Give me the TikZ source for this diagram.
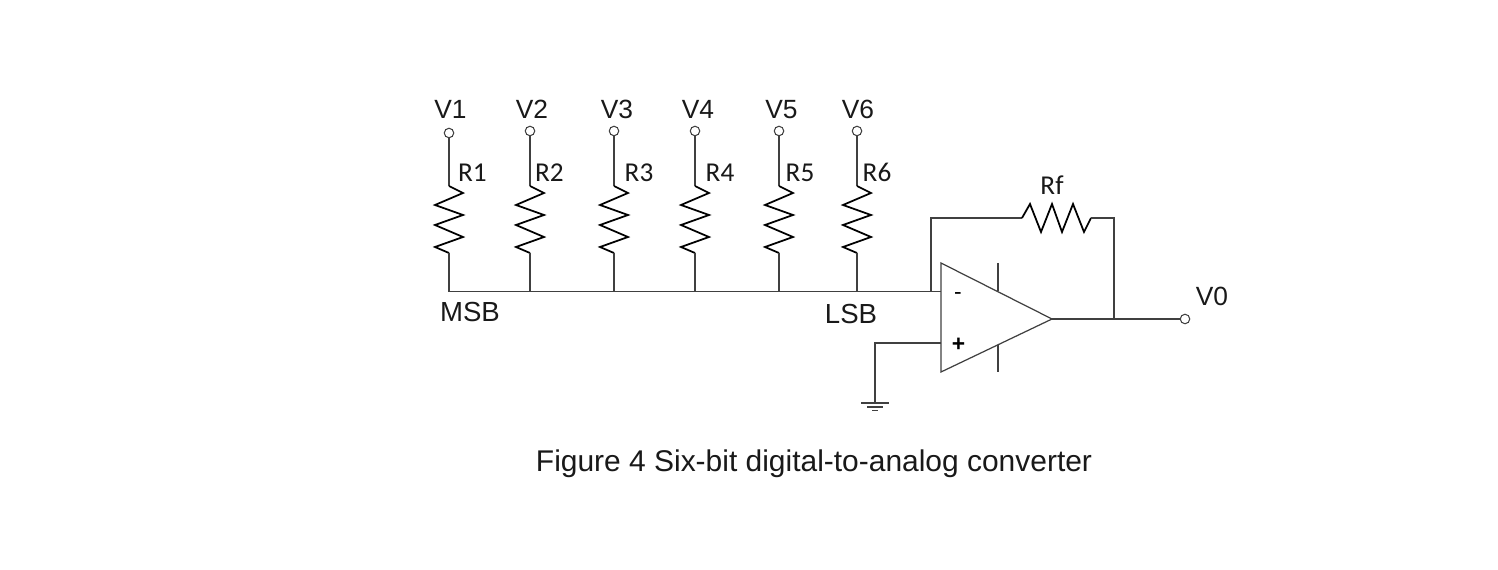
\documentclass[tikz,border=0pt]{standalone}
\usepackage{fontspec}
\setmainfont{Liberation Sans}
\newfontfamily\calibrifont{Carlito}
\usetikzlibrary{positioning}
\tikzset{
    resvert/.pic={\draw[zigzag] (0,0) -- (14,7) -- (-14,19) -- (14,29) -- (-14,39) -- (14,51) -- (-14,61) -- (0,67);},
    reshoriz/.pic={\draw[zigzag] (0,0) -- (8,-14) -- (19,14) -- (30,-14) -- (40,14) -- (51,-14) -- (62,14) -- (69,0);}
}
\begin{document}
\begin{tikzpicture}[x=0.02cm, y=-0.02cm]

    % Styles
    \tikzstyle{wire} = [draw=black!75, line width=0.7pt]
    \tikzstyle{zigzag} = [draw=black, line width=1pt, line join=miter]
    \tikzstyle{terminal} = [circle, draw=black!75, fill=white, line width=0.6pt, inner sep=0pt, minimum size=5.4pt]
    \tikzstyle{biglabel} = [inner sep=0pt, anchor=base, font=\fontsize{15}{18}\selectfont, text=black!90]
    \tikzstyle{buslabel} = [inner sep=0pt, anchor=base, font=\fontsize{15.7}{18}\selectfont, text=black!90]
    \tikzstyle{smalllabel} = [inner sep=0pt, anchor=base, font=\calibrifont\fontsize{15.5}{18}\selectfont, text=black!90]

    \useasboundingbox (0,0) rectangle (1498,570);

    % Bus
    \coordinate (B1) at (448,291.5);
    \coordinate (B7) at (941,291.5);
    \draw[wire] (B1) -- (B7);

    % Input Branches
    \foreach \i/\xres/\ytop/\xlab/\xtxt in {1/449/133/472.5/450.5, 2/530/131/549.5/532, 3/614/131/639/617, 4/695/131/720/698, 5/779/131/800/781.5, 6/857/131/877/858} {
        \node[biglabel] (V\i) at (\xtxt,119) {V\i};
        \node[terminal] (T\i) at (\xres,\ytop) {};
        \node[smalllabel] (R\i) at (\xlab,182) {R\i};
        \coordinate (A\i) at (\xres,186);
        \coordinate (C\i) at (\xres,253);
        \coordinate (J\i) at (\xres,291.5);
        \draw[wire] (T\i) -- (A\i);
        \pic at (A\i) {resvert};
        \draw[wire] (C\i) -- (J\i);
    }
    \node[buslabel] (MSB) at (470,322) {MSB};
    \node[buslabel] (LSB) at (851,323.5) {LSB};

    % Op Amp
    \coordinate (OA) at (941,263);
    \coordinate (OB) at (941,372);
    \coordinate (OC) at (1052,319);
    \draw[wire] (OA) -- (OC) -- (OB) -- cycle;
    \node[inner sep=0pt, font=\fontsize{13}{15}\selectfont] (minus) at (958,296) {-};
    \node[inner sep=0pt, font=\bfseries\fontsize{13}{15}\selectfont] (plus) at (958.5,344.5) {+};
    \coordinate (PA) at (998,263);
    \coordinate (PB) at (998,291);
    \coordinate (PC) at (998,345);
    \coordinate (PD) at (998,372);
    \draw[wire] (PA) -- (PB);
    \draw[wire] (PC) -- (PD);

    % Feedback
    \coordinate (F1) at (931,291.5);
    \coordinate (F2) at (1022,218);
    \coordinate (F3) at (1091,218);
    \coordinate (F4) at (1114,319);
    \draw[wire] (F1) |- (F2);
    \pic at (F2) {reshoriz};
    \draw[wire] (F3) -| (F4);
    \node[smalllabel] (Rf) at (1052,194.5) {Rf};

    % Output
    \node[terminal] (T0) at (1185,319) {};
    \node[biglabel] (V0) at (1212,306) {V0};
    \draw[wire] (OC) -- (T0);

    % Ground
    \coordinate (P1) at (941,343);
    \coordinate (G0) at (875,403);
    \coordinate (G1) at (861,403);
    \coordinate (G2) at (889,403);
    \coordinate (G3) at (867,407);
    \coordinate (G4) at (883,407);
    \coordinate (G5) at (872,410.5);
    \coordinate (G6) at (878,410.5);
    \draw[wire] (P1) -| (G0);
    \draw[wire] (G1) -- (G2);
    \draw[wire] (G3) -- (G4);
    \draw[wire] (G5) -- (G6);

    % Caption
    \node[inner sep=0pt, anchor=base, font=\fontsize{17.05}{20}\selectfont, text=black!90] (caption) at (814,472) {Figure 4 Six-bit digital-to-analog converter};

\end{tikzpicture}
\end{document}
